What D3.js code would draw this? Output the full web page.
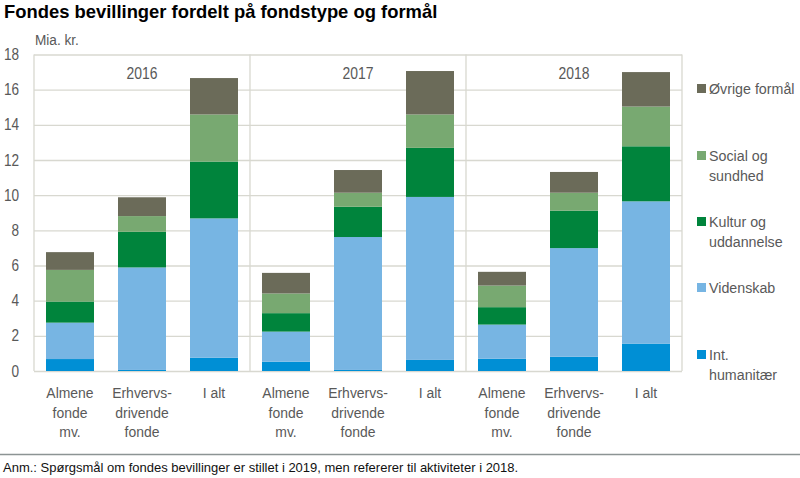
<!DOCTYPE html>
<html>
<head>
<meta charset="utf-8">
<script src="https://cdn.jsdelivr.net/npm/d3@7"></script>
<style>
  body { margin: 0; background: #fff; }
  svg { display: block; }
  .narrow { font-family: "Liberation Sans", Arial, sans-serif; fill: #595959; }
</style>
</head>
<body>
<div id="chart"></div>
<script>
(function () {
    'use strict';

    var years = ['2016', '2017', '2018'];
    var fundTypes = ['Almene fonde mv.', 'Erhvervsdrivende fonde', 'I alt'];
    var fundLabels = [['Almene', 'fonde', 'mv.'], ['Erhvervs-', 'drivende', 'fonde'], ['I alt']];
    var purposes = ['Int. humanitær', 'Videnskab', 'Kultur og uddannelse', 'Social og sundhed', 'Øvrige formål'];
    var legendLabels = [['Int.', 'humanitær'], ['Videnskab'], ['Kultur og', 'uddannelse'], ['Social og', 'sundhed'], ['Øvrige formål']];
    var colors = ['#008fd5', '#77b5e3', '#00843c', '#78a971', '#6b6b59'];
    var yTicks = [0, 2, 4, 6, 8, 10, 12, 14, 16, 18];

    // values per year, per fund type: [int, videnskab, kultur, social, øvrige]
    var values2016 = [[0.68, 2.07, 1.20, 1.80, 1.01], [0.06, 5.83, 2.03, 0.89, 1.07], [0.76, 7.92, 3.23, 2.68, 2.07]];
    var values2017 = [[0.53, 1.71, 1.05, 1.12, 1.17], [0.06, 7.56, 1.72, 0.80, 1.29], [0.63, 9.27, 2.79, 1.90, 2.47]];
    var values2018 = [[0.70, 1.94, 0.99, 1.23, 0.78], [0.81, 6.18, 2.13, 1.02, 1.18], [1.56, 8.09, 3.13, 2.26, 1.96]];
    var valuesByYear = [values2016, values2017, values2018];

    var width = 800, height = 478;
    var plot = { left: 34, right: 682, top: 54.5, bottom: 371 };

    var svg = d3.select('#chart').append('svg')
        .attr('width', width)
        .attr('height', height);

    // squeeze text horizontally to mimic the narrow font of the original
    function narrow(x, yPos, s) {
        return 'translate(' + x + ',' + yPos + ') scale(' + s + ',1)';
    }

    var x0 = d3.scaleBand().domain(years).range([plot.left, plot.right]);
    var x1 = d3.scaleBand().domain(fundTypes).range([0, x0.bandwidth()])
        .paddingInner(1 / 3).paddingOuter(1 / 6);
    var y = d3.scaleLinear().domain([0, 18]).range([plot.bottom, plot.top]);

    // grid
    svg.append('g')
        .attr('transform', 'translate(' + plot.left + ',0)')
        .call(d3.axisLeft(y).tickValues(yTicks).tickSize(-(plot.right - plot.left)).tickFormat(''))
        .call(function (g) { g.select('.domain').remove(); })
        .selectAll('line').attr('stroke', '#d8d8d0').attr('stroke-width', 1.3);

    // panel borders
    var edges = years.map(function (yr) { return x0(yr); }).concat([plot.right]);
    svg.selectAll('line.sep').data(edges).enter().append('line')
        .attr('class', 'sep')
        .attr('x1', function (d) { return d; }).attr('x2', function (d) { return d; })
        .attr('y1', plot.top).attr('y2', plot.bottom)
        .attr('stroke', '#d8d8d0').attr('stroke-width', 1.3);

    // y tick labels
    svg.selectAll('text.ytick').data(yTicks).enter().append('text')
        .attr('class', 'narrow ytick')
        .attr('transform', function (d) { return narrow(19, y(d) + 5.5, 0.85); })
        .attr('text-anchor', 'end').attr('font-size', 16)
        .text(function (d) { return d; });

    svg.append('text').attr('class', 'narrow')
        .attr('transform', narrow(35, 45, 0.88)).attr('font-size', 15.5)
        .text('Mia. kr.');

    // bars
    var stack = d3.stack().keys(d3.range(purposes.length));
    var yearG = svg.selectAll('g.year').data(years).enter().append('g')
        .attr('class', 'year')
        .attr('transform', function (d) { return 'translate(' + x0(d) + ',0)'; });

    yearG.each(function (yr, i) {
        var g = d3.select(this);
        var series = stack(valuesByYear[i]);
        g.selectAll('g.layer').data(series).enter().append('g')
            .attr('class', 'layer')
            .attr('fill', function (d, k) { return colors[k]; })
            .selectAll('rect').data(function (d) { return d; }).enter().append('rect')
            .attr('x', function (d, j) { return x1(fundTypes[j]); })
            .attr('width', x1.bandwidth())
            .attr('y', function (d) { return y(d[1]); })
            .attr('height', function (d) { return y(d[0]) - y(d[1]); });

        g.append('text').attr('class', 'narrow')
            .attr('transform', narrow(x0.bandwidth() / 2, 79, 0.87))
            .attr('text-anchor', 'middle').attr('font-size', 16)
            .text(yr);

        g.selectAll('text.cat').data(fundLabels).enter().append('text')
            .attr('class', 'narrow cat')
            .attr('text-anchor', 'middle').attr('font-size', 15.5)
            .attr('transform', function (d, j) { return narrow(x1(fundTypes[j]) + x1.bandwidth() / 2, 398, 0.9); })
            .selectAll('tspan').data(function (d) { return d; }).enter().append('tspan')
            .attr('x', 0).attr('y', function (d, k) { return k * 19.6; })
            .text(function (d) { return d; });
    });

    // legend (top entry is last series)
    var legendY = [84, 151, 217, 283, 350];
    var legend = svg.selectAll('g.legend').data(d3.range(purposes.length).reverse()).enter().append('g')
        .attr('class', 'legend')
        .attr('transform', function (d, i) { return 'translate(697,' + legendY[i] + ')'; });
    legend.append('rect').attr('width', 9).attr('height', 9)
        .attr('fill', function (d) { return colors[d]; });
    legend.append('text').attr('class', 'narrow').attr('font-size', 15.5)
        .attr('transform', narrow(12, 0, 0.92))
        .selectAll('tspan').data(function (d) { return legendLabels[d]; }).enter().append('tspan')
        .attr('x', 0).attr('y', function (d, k) { return 10 + k * 20; })
        .text(function (d) { return d; });

    // title, rule, note
    svg.append('text')
        .attr('x', 4).attr('y', 18)
        .attr('font-family', '"Liberation Sans", Arial, sans-serif')
        .attr('font-weight', 'bold').attr('font-size', 18.4)
        .text('Fondes bevillinger fordelt på fondstype og formål');

    svg.append('line')
        .attr('x1', 0).attr('x2', width).attr('y1', 454.5).attr('y2', 454.5)
        .attr('stroke', '#8c9494').attr('stroke-width', 1.5);

    svg.append('text')
        .attr('x', 3).attr('y', 472)
        .attr('font-family', '"Liberation Sans", Arial, sans-serif')
        .attr('font-size', 13).attr('fill', '#111')
        .text('Anm.: Spørgsmål om fondes bevillinger er stillet i 2019, men refererer til aktiviteter i 2018.');
}());
</script>
</body>
</html>
